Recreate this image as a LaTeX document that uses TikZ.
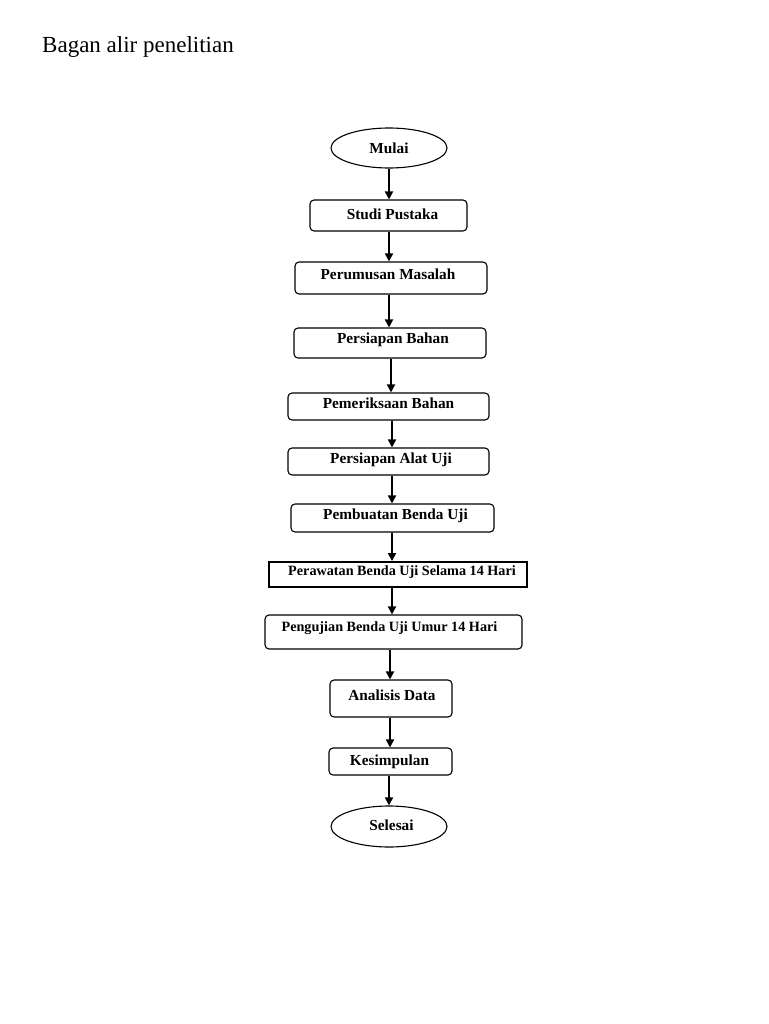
\documentclass[tikz,border=0pt]{standalone}
\usepackage{fontspec}
\setmainfont{Liberation Serif}
\usetikzlibrary{shapes.geometric,arrows.meta}
\begin{document}
\begin{tikzpicture}[x=1pt,y=-1pt,
  lab/.style={font=\bfseries\fontsize{15.3}{17}\selectfont,inner sep=0pt},
  labs/.style={font=\bfseries\fontsize{14.2}{16}\selectfont,inner sep=0pt},
  box/.style={draw,line width=1.1pt,rounded corners=4pt,inner sep=0pt},
  sharpbox/.style={draw,line width=1.9pt,inner sep=0pt},
  oval/.style={draw,ellipse,line width=1.1pt,inner sep=0pt},
  arr/.style={line width=1.8pt,-{Triangle[width=8pt,length=8pt]}}]
\useasboundingbox (0,0) rectangle (768,1024);
\node[anchor=base west,inner sep=0pt,font=\fontsize{23}{27}\selectfont] (title) at (42,53) {Bagan alir penelitian};
\node[oval,minimum width=116,minimum height=40,label={[lab]center:Mulai}] (mulai) at (389,148) {};
\node[box,minimum width=157,minimum height=31,label={[lab,xshift=4pt,yshift=1.5pt]center:Studi Pustaka}] (studi) at (388.5,215.5) {};
\node[box,minimum width=192,minimum height=32,label={[lab,xshift=-3pt,yshift=4pt]center:Perumusan Masalah}] (rumus) at (391,278) {};
\node[box,minimum width=192,minimum height=30,label={[lab,xshift=3pt,yshift=3pt]center:Persiapan Bahan}] (bahan) at (390,343) {};
\node[box,minimum width=201,minimum height=27,label={[lab,yshift=3.5pt]center:Pemeriksaan Bahan}] (periksa) at (388.5,406.5) {};
\node[box,minimum width=201,minimum height=27,label={[lab,xshift=2.5pt,yshift=1.5pt]center:Persiapan Alat Uji}] (alat) at (388.5,461.5) {};
\node[box,minimum width=203,minimum height=28,label={[lab,xshift=3pt,yshift=2pt]center:Pembuatan Benda Uji}] (buat) at (392.5,518) {};
\node[sharpbox,minimum width=258,minimum height=25,label={[labs,xshift=4pt,yshift=2.5pt]center:Perawatan Benda Uji Selama 14 Hari}] (rawat) at (398,574.5) {};
\node[box,minimum width=257,minimum height=34,label={[labs,xshift=-4pt,yshift=4pt]center:Pengujian Benda Uji Umur 14 Hari}] (uji) at (393.5,632) {};
\node[box,minimum width=122,minimum height=37,label={[lab,xshift=1pt,yshift=3.5pt]center:Analisis Data}] (analisis) at (391,698.5) {};
\node[box,minimum width=123,minimum height=27,label={[lab,xshift=-1pt]center:Kesimpulan}] (simpul) at (390.5,761.5) {};
\node[oval,minimum width=116,minimum height=41,label={[lab,xshift=2.5pt,yshift=1pt]center:Selesai}] (selesai) at (389,826.5) {};
\draw[arr] (mulai.south -| 389,0) -- (studi.north -| 389,0);
\draw[arr] (studi.south -| 389,0) -- (rumus.north -| 389,0);
\draw[arr] (rumus.south -| 389,0) -- (bahan.north -| 389,0);
\draw[arr] (bahan.south -| 391,0) -- (periksa.north -| 391,0);
\draw[arr] (periksa.south -| 392,0) -- (alat.north -| 392,0);
\draw[arr] (alat.south -| 392,0) -- (buat.north -| 392,0);
\draw[arr] (buat.south -| 392,0) -- (rawat.north -| 392,0);
\draw[arr] (rawat.south -| 392,0) -- (uji.north -| 392,0);
\draw[arr] (uji.south -| 390,0) -- (analisis.north -| 390,0);
\draw[arr] (analisis.south -| 390,0) -- (simpul.north -| 390,0);
\draw[arr] (simpul.south -| 389,0) -- (selesai.north -| 389,0);
\end{tikzpicture}
\end{document}
